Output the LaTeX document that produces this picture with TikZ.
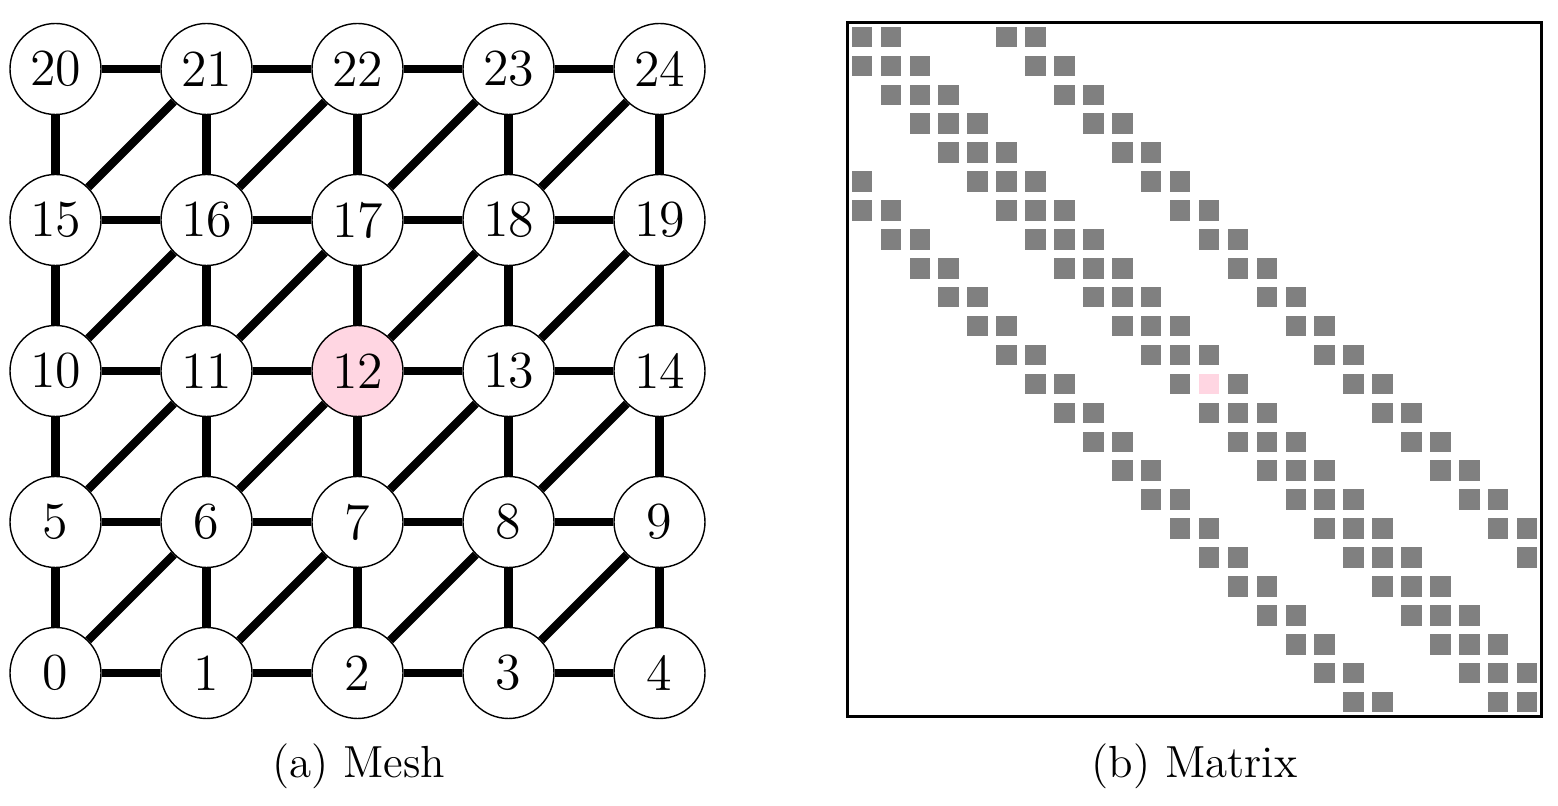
\documentclass[tikz,border=0pt]{standalone}
\usepackage{tikz}
\usetikzlibrary{positioning}

\definecolor{nodepink}{RGB}{255,214,226}

\begin{document}
\begin{tikzpicture}[
    vertex/.style={draw, circle, minimum size=0.91cm, inner sep=0pt, fill=white, font=\fontsize{14.8}{16}\selectfont},
    link/.style={line width=2.4pt},
    entry/.style={fill=gray},
    caption/.style={anchor=base, font=\fontsize{12.8}{15}\selectfont}
]
    \useasboundingbox (0,0) rectangle (15.58,8.06);

    % mesh nodes
    \foreach \j in {0,...,4} {
        \foreach \i in {0,...,4} {
            \pgfmathtruncatemacro\n{5*\j+\i}
            \ifnum\n=12 \def\shade{nodepink}\else\def\shade{white}\fi
            \node[vertex, fill=\shade] (v\n) at ({0.555+1.51*\i},{1.33+1.51*\j}) {\n};
        }
    }

    % mesh edges
    \foreach \j in {0,...,4} {
        \foreach \i in {0,...,3} {
            \pgfmathtruncatemacro\a{5*\j+\i}
            \pgfmathtruncatemacro\b{\a+1}
            \draw[link] (v\a) -- (v\b);
        }
    }
    \foreach \a in {0,...,19} {
        \pgfmathtruncatemacro\b{\a+5}
        \draw[link] (v\a) -- (v\b);
    }
    \foreach \j in {0,...,3} {
        \foreach \i in {0,...,3} {
            \pgfmathtruncatemacro\a{5*\j+\i}
            \pgfmathtruncatemacro\b{\a+6}
            \draw[link] (v\a) -- (v\b);
        }
    }

    % sparsity pattern
    \begin{scope}[shift={(8.475,7.835)}, x=0.2892cm, y=-0.2892cm]
        \foreach \r in {0,...,23} {
            \foreach \d in {-6,-5,-1,0,1,5,6} {
                \pgfmathtruncatemacro\c{\r+\d}
                \ifnum\c>-1 \ifnum\c<24
                    \ifnum\c=12 \ifnum\r=12 \def\shade{nodepink}\else\def\shade{gray}\fi
                    \else\def\shade{gray}\fi
                    \fill[entry, fill=\shade] (\c+0.145,\r+0.145) rectangle (\c+0.855,\r+0.855);
                \fi\fi
            }
        }
        \draw[line width=0.8pt] (0,0) rectangle (24,24);
        \coordinate (mat) at (12,24);
    \end{scope}

    % captions
    \node[caption] (capa) at (3.59,0.285) {(a) Mesh};
    \node[caption] (capb) at (mat |- capa.base) {(b) Matrix};
\end{tikzpicture}
\end{document}
